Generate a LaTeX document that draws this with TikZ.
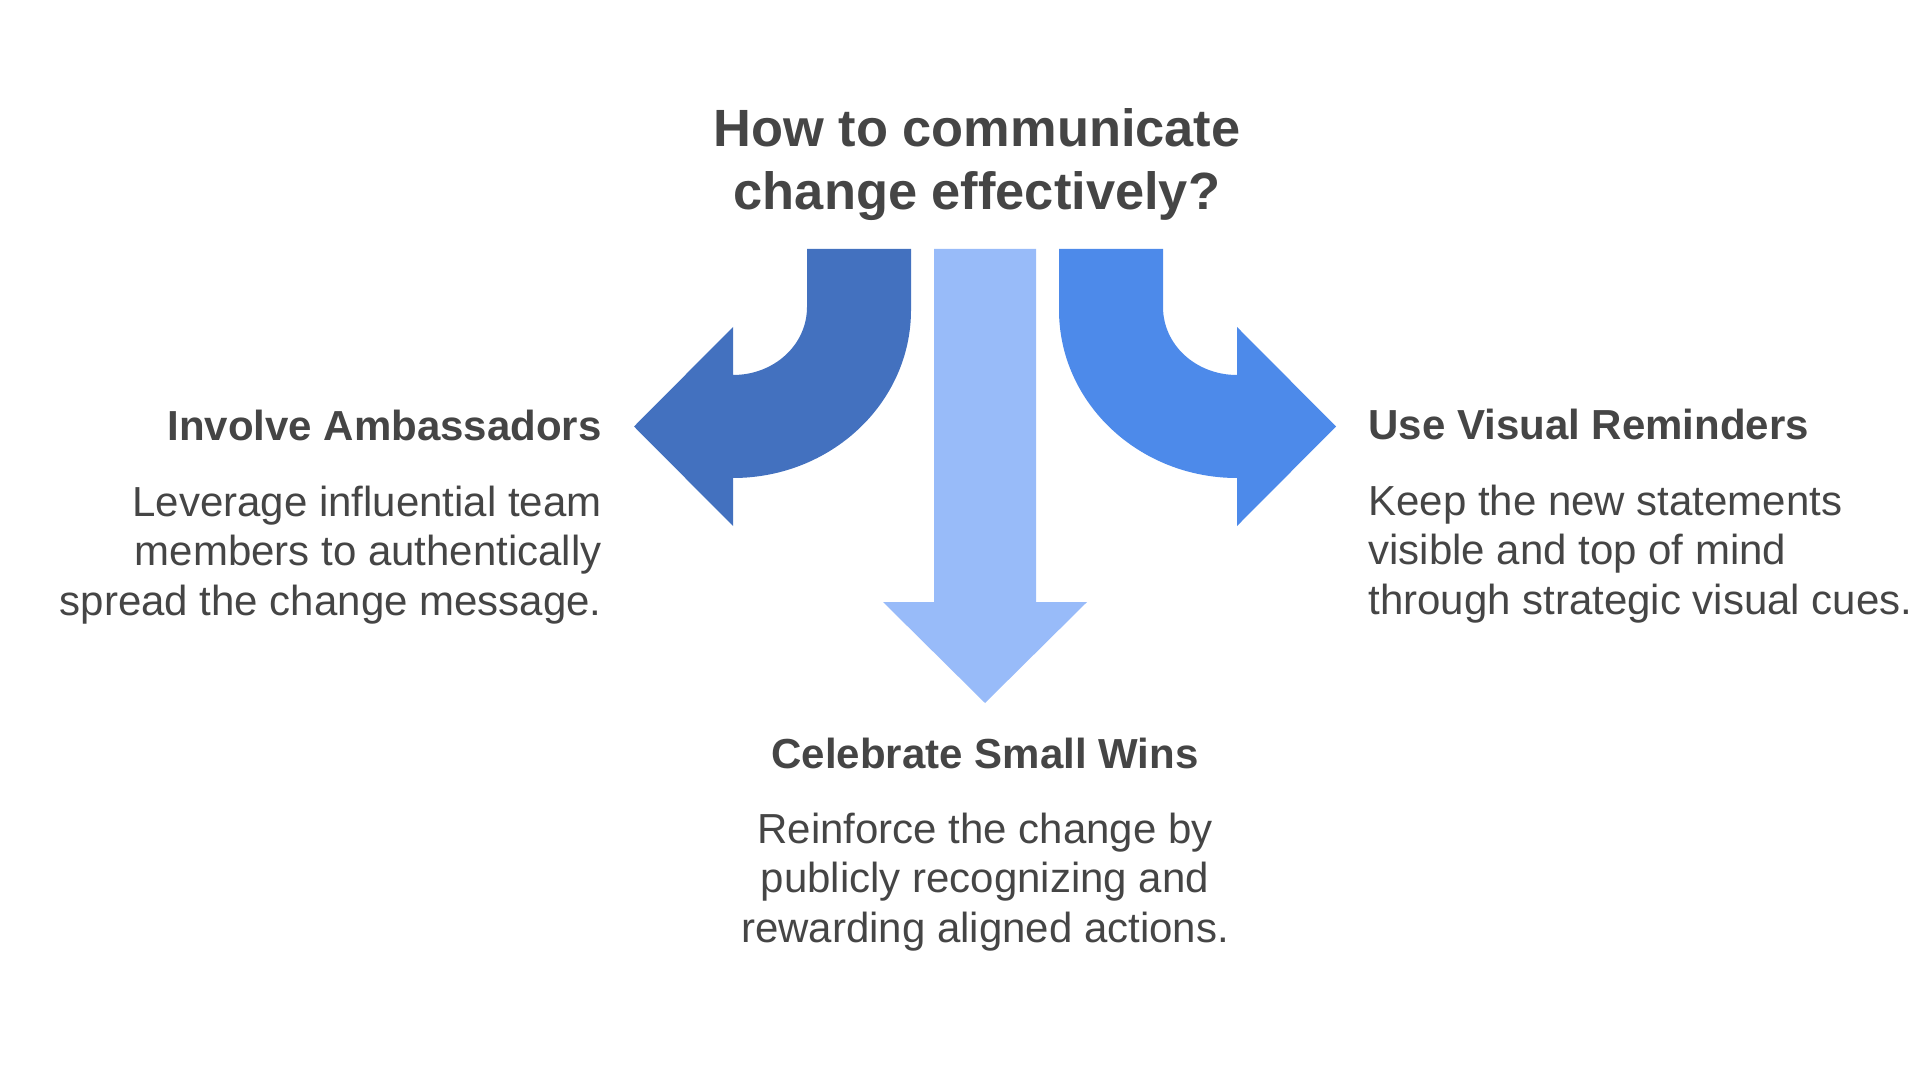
\documentclass[tikz,border=0pt]{standalone}
\usepackage{fontspec}
\setmainfont{Liberation Sans}
\usetikzlibrary{positioning}
\definecolor{ink}{HTML}{454545}
\definecolor{deepblue}{HTML}{4371BF}
\definecolor{paleblue}{HTML}{98BBF9}
\definecolor{brightblue}{HTML}{4D8AEA}
\tikzset{
 question/.style={font=\bfseries\fontsize{26.2}{31.5}\selectfont,text=ink,align=center,inner sep=0pt},
 head/.style={font=\bfseries\fontsize{21}{25}\selectfont,text=ink,inner sep=0pt},
 body/.style={font=\fontsize{21}{24.75}\selectfont,text=ink,inner sep=0pt}
}
\begin{document}
\begin{tikzpicture}[x=0.5pt,y=-0.5pt]
\useasboundingbox (0,0) rectangle (1920,1080);
\node[question,anchor=base] (title) at (977,210) {How to communicate\\change effectively?};
\fill[deepblue] (807,249) -- (807,307) .. controls (807,345) and (774,375) .. (733,375) -- (733,327) -- (634,426.5) -- (733,526) -- (733,478) .. controls (831,478) and (911,403) .. (911,310) -- (911,249) -- cycle;
\fill[paleblue] (934,249) -- (934,602) -- (883,602) -- (985,703) -- (1087,602) -- (1036,602) -- (1036,249) -- cycle;
\fill[brightblue] (1163,249) -- (1163,307) .. controls (1163,345) and (1196,375) .. (1237,375) -- (1237,327) -- (1336,426.5) -- (1237,526) -- (1237,478) .. controls (1139,478) and (1059,403) .. (1059,310) -- (1059,249) -- cycle;
\node[head,anchor=base east] (amb) at (602,440) {Involve Ambassadors};
\node[body,anchor=base east,align=right] (ambtext) at (602,615) {Leverage influential team\\members to authentically\\spread the change message.};
\node[head,anchor=base west] (visual) at (1368,439) {Use Visual Reminders};
\node[body,anchor=base west,align=left] (visualtext) at (1368,614) {Keep the new statements\\visible and top of mind\\through strategic visual cues.};
\node[head,anchor=base] (wins) at (985,768) {Celebrate Small Wins};
\node[body,anchor=base,align=center] (winstext) at (985,942) {Reinforce the change by\\publicly recognizing and\\rewarding aligned actions.};
\end{tikzpicture}
\end{document}
